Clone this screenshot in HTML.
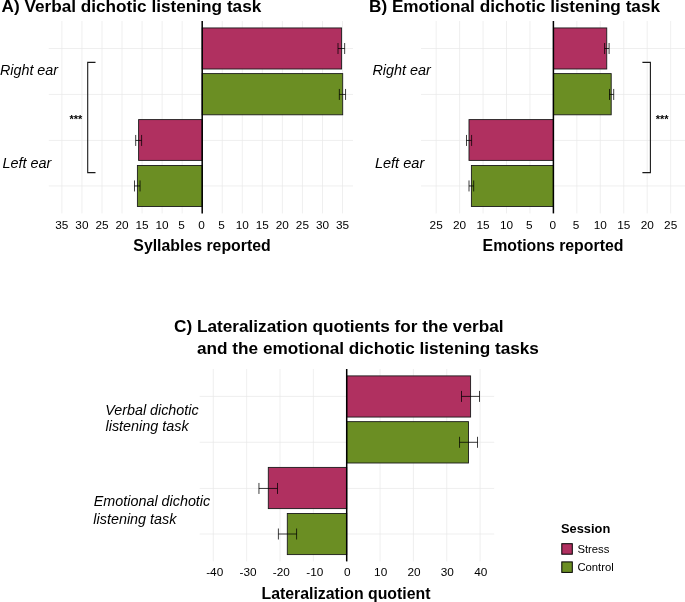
<!DOCTYPE html>
<html><head><meta charset="utf-8"><title>Dichotic listening</title>
<style>
html,body{margin:0;padding:0;background:#fff;}
svg{display:block;}
text{font-family:"Liberation Sans",Arial,Helvetica,sans-serif;fill:#000;}
.t{font-weight:bold;font-size:17.2px;}
.ax{font-weight:bold;font-size:15.85px;}
.yl{font-style:italic;font-size:14.4px;}
.tk{font-size:11.8px;fill:#000;}
.st{font-size:11px;font-weight:bold;fill:#000;}
.lg{font-size:11.3px;}
.lgt{font-size:12.85px;font-weight:bold;}
.g{stroke:#e8e8e8;stroke-width:0.7;fill:none;}
.bar{stroke:#1a1a1a;stroke-width:0.9;}
.eb{stroke:#000;stroke-opacity:.8;stroke-width:0.95;fill:none;}
.br{stroke:#1a1a1a;stroke-width:1.1;fill:none;}
.z{stroke:#000;stroke-width:1.5;}
</style></head><body>
<svg width="685" height="602" viewBox="0 0 685 602">
<rect x="0" y="0" width="685" height="602" fill="#ffffff"/>

<line class="g" x1="61.88" y1="21.0" x2="61.88" y2="213.4"/>
<line class="g" x1="81.93" y1="21.0" x2="81.93" y2="213.4"/>
<line class="g" x1="101.97" y1="21.0" x2="101.97" y2="213.4"/>
<line class="g" x1="122.02" y1="21.0" x2="122.02" y2="213.4"/>
<line class="g" x1="142.06" y1="21.0" x2="142.06" y2="213.4"/>
<line class="g" x1="162.11" y1="21.0" x2="162.11" y2="213.4"/>
<line class="g" x1="182.15" y1="21.0" x2="182.15" y2="213.4"/>
<line class="g" x1="202.20" y1="21.0" x2="202.20" y2="213.4"/>
<line class="g" x1="222.25" y1="21.0" x2="222.25" y2="213.4"/>
<line class="g" x1="242.29" y1="21.0" x2="242.29" y2="213.4"/>
<line class="g" x1="262.33" y1="21.0" x2="262.33" y2="213.4"/>
<line class="g" x1="282.38" y1="21.0" x2="282.38" y2="213.4"/>
<line class="g" x1="302.43" y1="21.0" x2="302.43" y2="213.4"/>
<line class="g" x1="322.47" y1="21.0" x2="322.47" y2="213.4"/>
<line class="g" x1="342.51" y1="21.0" x2="342.51" y2="213.4"/>
<line class="g" x1="48.8" y1="48.50" x2="353" y2="48.50"/>
<line class="g" x1="48.8" y1="94.45" x2="353" y2="94.45"/>
<line class="g" x1="48.8" y1="140.45" x2="353" y2="140.45"/>
<line class="g" x1="48.8" y1="185.95" x2="353" y2="185.95"/>
<rect class="bar" x="202.20" y="27.95" width="139.40" height="41.05" fill="#b03060"/>
<rect class="bar" x="202.20" y="73.60" width="140.50" height="41.20" fill="#6b8e23"/>
<rect class="bar" x="138.60" y="119.60" width="63.60" height="40.80" fill="#b03060"/>
<rect class="bar" x="137.40" y="165.50" width="64.80" height="41.00" fill="#6b8e23"/>
<path class="eb" d="M338.00 43.00V54.00M344.65 43.00V54.00M338.00 48.50H344.65"/>
<path class="eb" d="M339.35 88.95V99.95M345.55 88.95V99.95M339.35 94.45H345.55"/>
<path class="eb" d="M135.70 134.95V145.95M141.60 134.95V145.95M135.70 140.45H141.60"/>
<path class="eb" d="M134.50 180.45V191.45M140.05 180.45V191.45M134.50 185.95H140.05"/>
<line class="z" x1="202.20" y1="21.0" x2="202.20" y2="213.4"/>
<text class="tk" x="61.88" y="229" text-anchor="middle">35</text>
<text class="tk" x="81.93" y="229" text-anchor="middle">30</text>
<text class="tk" x="101.97" y="229" text-anchor="middle">25</text>
<text class="tk" x="122.02" y="229" text-anchor="middle">20</text>
<text class="tk" x="142.06" y="229" text-anchor="middle">15</text>
<text class="tk" x="162.11" y="229" text-anchor="middle">10</text>
<text class="tk" x="181.55" y="229" text-anchor="middle">5</text>
<text class="tk" x="201.60" y="229" text-anchor="middle">0</text>
<text class="tk" x="221.65" y="229" text-anchor="middle">5</text>
<text class="tk" x="242.29" y="229" text-anchor="middle">10</text>
<text class="tk" x="262.33" y="229" text-anchor="middle">15</text>
<text class="tk" x="282.38" y="229" text-anchor="middle">20</text>
<text class="tk" x="302.43" y="229" text-anchor="middle">25</text>
<text class="tk" x="322.47" y="229" text-anchor="middle">30</text>
<text class="tk" x="342.51" y="229" text-anchor="middle">35</text>
<text class="t" x="1.5" y="11.8">A) Verbal dichotic listening task</text>
<text class="yl" x="0" y="74.8" style="font-size:14.3px">Right ear</text>
<text class="yl" x="2.5" y="168.2">Left ear</text>
<path class="br" d="M95.5 62.4H87.7V172.6H95.5"/>
<text class="st" x="75.9" y="122.9" text-anchor="middle">***</text>
<text class="ax" x="202" y="251.3" text-anchor="middle">Syllables reported</text>
<line class="g" x1="436.15" y1="21.0" x2="436.15" y2="213.4"/>
<line class="g" x1="459.60" y1="21.0" x2="459.60" y2="213.4"/>
<line class="g" x1="483.05" y1="21.0" x2="483.05" y2="213.4"/>
<line class="g" x1="506.50" y1="21.0" x2="506.50" y2="213.4"/>
<line class="g" x1="529.95" y1="21.0" x2="529.95" y2="213.4"/>
<line class="g" x1="553.40" y1="21.0" x2="553.40" y2="213.4"/>
<line class="g" x1="576.85" y1="21.0" x2="576.85" y2="213.4"/>
<line class="g" x1="600.30" y1="21.0" x2="600.30" y2="213.4"/>
<line class="g" x1="623.75" y1="21.0" x2="623.75" y2="213.4"/>
<line class="g" x1="647.20" y1="21.0" x2="647.20" y2="213.4"/>
<line class="g" x1="670.65" y1="21.0" x2="670.65" y2="213.4"/>
<line class="g" x1="421" y1="48.50" x2="685" y2="48.50"/>
<line class="g" x1="421" y1="94.45" x2="685" y2="94.45"/>
<line class="g" x1="421" y1="140.45" x2="685" y2="140.45"/>
<line class="g" x1="421" y1="185.95" x2="685" y2="185.95"/>
<rect class="bar" x="553.40" y="27.95" width="53.35" height="41.05" fill="#b03060"/>
<rect class="bar" x="553.40" y="73.60" width="57.80" height="41.20" fill="#6b8e23"/>
<rect class="bar" x="469.00" y="119.60" width="84.40" height="40.80" fill="#b03060"/>
<rect class="bar" x="471.40" y="165.50" width="82.00" height="41.00" fill="#6b8e23"/>
<path class="eb" d="M604.60 43.00V54.00M609.10 43.00V54.00M604.60 48.50H609.10"/>
<path class="eb" d="M609.50 88.95V99.95M613.70 88.95V99.95M609.50 94.45H613.70"/>
<path class="eb" d="M466.50 134.95V145.95M471.60 134.95V145.95M466.50 140.45H471.60"/>
<path class="eb" d="M469.00 180.45V191.45M473.70 180.45V191.45M469.00 185.95H473.70"/>
<line class="z" x1="553.40" y1="21.0" x2="553.40" y2="213.4"/>
<text class="tk" x="436.15" y="229" text-anchor="middle">25</text>
<text class="tk" x="459.60" y="229" text-anchor="middle">20</text>
<text class="tk" x="483.05" y="229" text-anchor="middle">15</text>
<text class="tk" x="506.50" y="229" text-anchor="middle">10</text>
<text class="tk" x="529.25" y="229" text-anchor="middle">5</text>
<text class="tk" x="552.70" y="229" text-anchor="middle">0</text>
<text class="tk" x="576.15" y="229" text-anchor="middle">5</text>
<text class="tk" x="600.30" y="229" text-anchor="middle">10</text>
<text class="tk" x="623.75" y="229" text-anchor="middle">15</text>
<text class="tk" x="647.20" y="229" text-anchor="middle">20</text>
<text class="tk" x="670.65" y="229" text-anchor="middle">25</text>
<text class="t" x="369" y="11.8" style="font-size:17.18px">B) Emotional dichotic listening task</text>
<text class="yl" x="372.4" y="74.8">Right ear</text>
<text class="yl" x="374.9" y="168.3" style="font-size:14.55px">Left ear</text>
<path class="br" d="M642.4 62.4H650.4V172.6H642.4"/>
<text class="st" x="662.2" y="122.9" text-anchor="middle">***</text>
<text class="ax" x="553" y="251.3" text-anchor="middle">Emotions reported</text>
<line class="g" x1="213.30" y1="369.0" x2="213.30" y2="561.4"/>
<line class="g" x1="246.65" y1="369.0" x2="246.65" y2="561.4"/>
<line class="g" x1="280.00" y1="369.0" x2="280.00" y2="561.4"/>
<line class="g" x1="313.35" y1="369.0" x2="313.35" y2="561.4"/>
<line class="g" x1="346.70" y1="369.0" x2="346.70" y2="561.4"/>
<line class="g" x1="380.05" y1="369.0" x2="380.05" y2="561.4"/>
<line class="g" x1="413.40" y1="369.0" x2="413.40" y2="561.4"/>
<line class="g" x1="446.75" y1="369.0" x2="446.75" y2="561.4"/>
<line class="g" x1="480.10" y1="369.0" x2="480.10" y2="561.4"/>
<line class="g" x1="199.7" y1="396.40" x2="494.2" y2="396.40"/>
<line class="g" x1="199.7" y1="442.30" x2="494.2" y2="442.30"/>
<line class="g" x1="199.7" y1="488.45" x2="494.2" y2="488.45"/>
<line class="g" x1="199.7" y1="534.00" x2="494.2" y2="534.00"/>
<rect class="bar" x="346.70" y="375.90" width="123.90" height="41.15" fill="#b03060"/>
<rect class="bar" x="346.70" y="421.65" width="121.80" height="41.35" fill="#6b8e23"/>
<rect class="bar" x="268.30" y="467.40" width="78.40" height="41.20" fill="#b03060"/>
<rect class="bar" x="287.30" y="513.50" width="59.40" height="41.10" fill="#6b8e23"/>
<path class="eb" d="M461.50 390.90V401.90M479.50 390.90V401.90M461.50 396.40H479.50"/>
<path class="eb" d="M459.55 436.80V447.80M477.50 436.80V447.80M459.55 442.30H477.50"/>
<path class="eb" d="M258.95 482.95V493.95M277.50 482.95V493.95M258.95 488.45H277.50"/>
<path class="eb" d="M278.40 528.50V539.50M296.60 528.50V539.50M278.40 534.00H296.60"/>
<line class="z" x1="346.70" y1="369.0" x2="346.70" y2="561.4"/>
<text class="tk" x="214.70" y="575.7" text-anchor="middle">-40</text>
<text class="tk" x="248.05" y="575.7" text-anchor="middle">-30</text>
<text class="tk" x="281.40" y="575.7" text-anchor="middle">-20</text>
<text class="tk" x="314.75" y="575.7" text-anchor="middle">-10</text>
<text class="tk" x="347.30" y="575.7" text-anchor="middle">0</text>
<text class="tk" x="380.65" y="575.7" text-anchor="middle">10</text>
<text class="tk" x="414.00" y="575.7" text-anchor="middle">20</text>
<text class="tk" x="447.35" y="575.7" text-anchor="middle">30</text>
<text class="tk" x="480.70" y="575.7" text-anchor="middle">40</text>
<text class="t" x="174" y="331.5">C) Lateralization quotients for the verbal</text>
<text class="t" x="197" y="353.7">and the emotional dichotic listening tasks</text>
<text class="yl" x="105.3" y="414.5" style="font-size:14.3px">Verbal dichotic</text>
<text class="yl" x="105.5" y="430.8">listening task</text>
<text class="yl" x="93.8" y="505.5" style="font-size:14.35px">Emotional dichotic</text>
<text class="yl" x="93.3" y="523.6">listening task</text>
<text class="ax" x="346" y="598.6" text-anchor="middle">Lateralization quotient</text>
<text class="lgt" x="561" y="532.9">Session</text>
<rect x="561.8" y="543.7" width="10.5" height="10.5" fill="#b03060" stroke="#000" stroke-width="1"/>
<rect x="561.8" y="561.9" width="10.5" height="10.5" fill="#6b8e23" stroke="#000" stroke-width="1"/>
<text class="lg" x="577.4" y="552.9">Stress</text>
<text class="lg" x="577.4" y="570.9">Control</text>
</svg></body></html>
